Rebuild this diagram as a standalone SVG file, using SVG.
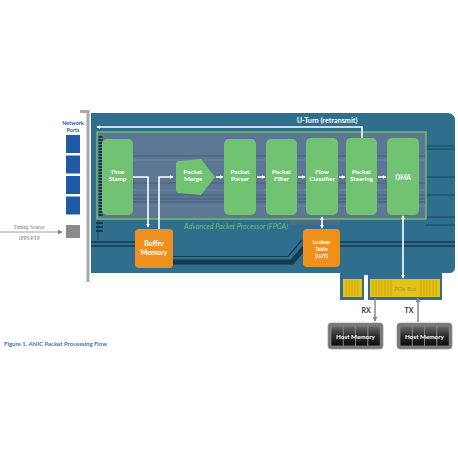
<svg xmlns="http://www.w3.org/2000/svg" width="458" height="458" viewBox="0 0 458 458">
<style>
.lbl{font-family:Lato,"Open Sans","Liberation Sans",sans-serif;fill:#fff;font-weight:700;text-anchor:middle}
.g{fill:#72c274}
.o{fill:#f0901c}
.wl{stroke:#fff;stroke-width:1.6;fill:none}
.tr{stroke:#163850;fill:none}
.fl{stroke:#465f7b;stroke-width:1;fill:none}
.gl{stroke:#7a90a8;stroke-width:0.6;fill:none}
.rt{stroke:#1b4460;fill:none}
.cell{fill:url(#cg);stroke:#8a8a8a;stroke-width:0.8}
.st{stroke:#c2a000;stroke-width:0.8}
</style>
<defs>
<marker id="aw" viewBox="0 0 6 6" refX="5" refY="3" markerWidth="4" markerHeight="4" orient="auto-start-reverse" markerUnits="userSpaceOnUse"><path d="M0,0 L6,3 L0,6 Z" fill="#fff"/></marker>
<marker id="ag" viewBox="0 0 6 6" refX="5" refY="3" markerWidth="5" markerHeight="5" orient="auto-start-reverse" markerUnits="userSpaceOnUse"><path d="M0,0 L6,3 L0,6 Z" fill="#888"/></marker>
<linearGradient id="cg" x1="0" y1="0" x2="0" y2="1"><stop offset="0" stop-color="#6a6a6a"/><stop offset="0.5" stop-color="#2a2a2a"/><stop offset="1" stop-color="#0a0a0a"/></linearGradient>
</defs>
<rect width="458" height="458" fill="#fff"/>

<!-- bracket -->
<path d="M80,111.5 H88 V282" stroke="#a8a8a8" stroke-width="3" fill="none"/>

<!-- card -->
<g id="card">
<path d="M91,113 H447 Q455,113 455,121 V267 Q455,273 449,273 H442 V300 H368 V275 H364 V300 H340 V273 H91 Z" fill="#2f6e8d"/>
<!-- traces -->
<path class="tr" stroke-width="1.5" d="M91,242 H135 M91,246 H135"/>
<path class="tr" stroke-width="5" d="M173,262 H292 L304,248"/>
<path class="tr" stroke-width="1.2" d="M173,256.5 H288 L302,240"/>
<path class="rt" stroke-width="1" d="M426,146 H455 M426,149 H455 M426,177 H455 M426,195 H455 M426,217 H455 M426,225 H455"/>
<path class="tr" stroke-width="1.5" d="M340,242 H455 M340,246 H455"/>
<path d="M98,219 V240" stroke="#163850" stroke-width="0.8"/>
<path d="M96,223 H103 M96,227 H103 M96,231 H103" stroke="#163850" stroke-width="1.8"/>
</g>

<!-- FPGA -->
<g id="fpga">
<rect x="290" y="219" width="50" height="6" fill="#4f6a85"/>
<rect x="97" y="132" width="329" height="87" fill="#5c7793" stroke="#6dbf6a" stroke-width="1.5"/>
<path class="fl" d="M103,156 H425 M103,195 H425 M103,199 H425 M103,202 H425 M103,183 H425"/>
<path class="gl" d="M103,160 H425 M103,190 H425 M103,206 H425"/>
<path d="M100.5,136 V216" stroke="#1d3346" stroke-width="4" stroke-dasharray="2,1"/>
<text x="236" y="229" font-family="Lato,'Open Sans','Liberation Sans',sans-serif" font-size="7.2" font-style="italic" fill="#6dbf6a" text-anchor="middle">Advanced Packet Processor (FPGA)</text>
</g>

<!-- connectors -->
<g id="connectors">
<path class="wl" d="M362,138 V127 H97" marker-end="url(#aw)"/>
<path class="wl" d="M133,177 H148 V227" marker-end="url(#aw)"/>
<path class="wl" d="M159,229 V177 H173" marker-end="url(#aw)"/>
<path class="wl" d="M216,177 H223" marker-end="url(#aw)"/>
<path class="wl" d="M257,177 H265" marker-end="url(#aw)"/>
<path class="wl" d="M298,177 H305" marker-end="url(#aw)"/>
<path class="wl" d="M339,177 H345" marker-end="url(#aw)"/>
<path class="wl" d="M378,177 H386" marker-end="url(#aw)"/>
<path class="wl" d="M322,217 V228" marker-start="url(#aw)" marker-end="url(#aw)"/>
<path class="wl" d="M403,216 V278" marker-start="url(#aw)" marker-end="url(#aw)"/>
<path d="M375,298 V321" stroke="#888" stroke-width="1.5" marker-end="url(#ag)"/>
<path d="M418,322 V298" stroke="#888" stroke-width="1.5" marker-end="url(#ag)"/>
</g>
<text class="lbl" x="327" y="123" font-size="7.2">U-Turn (retransmit)</text>

<!-- nodes -->
<g id="timestamp"><rect class="g" x="102" y="139" width="31" height="76" rx="5"/><text class="lbl" x="117.5" y="174" font-size="6.3">Time</text><text class="lbl" x="117.5" y="181" font-size="6.3">Stamp</text></g>
<g id="merge"><path class="g" d="M176,164 Q176,161 179,161 L201,159 L215,177 L201,195 L179,193 Q176,193 176,190 Z"/><text class="lbl" x="193" y="174" font-size="6.3">Packet</text><text class="lbl" x="193" y="181" font-size="6.3">Merge</text></g>
<g id="parser"><rect class="g" x="224" y="139" width="32" height="76" rx="5"/><text class="lbl" x="240" y="174" font-size="6.3">Packet</text><text class="lbl" x="240" y="181" font-size="6.3">Parser</text></g>
<g id="filter"><rect class="g" x="266" y="139" width="31" height="76" rx="5"/><text class="lbl" x="281.5" y="174" font-size="6.3">Packet</text><text class="lbl" x="281.5" y="181" font-size="6.3">Filter</text></g>
<g id="classifier"><rect class="g" x="306" y="138" width="32" height="77" rx="5"/><text class="lbl" x="322" y="174" font-size="6.3">Flow</text><text class="lbl" x="322" y="181" font-size="6.3">Classifier</text></g>
<g id="steering"><rect class="g" x="346" y="138" width="31" height="77" rx="5"/><text class="lbl" x="361.5" y="174" font-size="6.3">Packet</text><text class="lbl" x="361.5" y="181" font-size="6.3">Steering</text></g>
<g id="dma"><rect class="g" x="387" y="138" width="32" height="77" rx="5"/><text class="lbl" x="403" y="180" font-size="6.5">DMA</text></g>
<g id="buffer"><rect class="o" x="135" y="229" width="38" height="39" rx="4"/><text class="lbl" x="154" y="246" font-size="7">Buffer</text><text class="lbl" x="154" y="255" font-size="7">Memory</text></g>
<g id="lut"><rect class="o" x="303" y="229" width="37" height="38" rx="4"/><text class="lbl" x="321.5" y="244" font-size="5.3">Lookup</text><text class="lbl" x="321.5" y="251" font-size="5.3">Table</text><text class="lbl" x="321.5" y="258" font-size="5.3">(LUT)</text></g>

<!-- network ports -->
<g id="ports">
<text x="73" y="125" font-family="Lato,'Open Sans','Liberation Sans',sans-serif" font-size="5.5" font-weight="700" fill="#1f5aa6" text-anchor="middle">Network</text>
<text x="73" y="132" font-family="Lato,'Open Sans','Liberation Sans',sans-serif" font-size="5.5" font-weight="700" fill="#1f5aa6" text-anchor="middle">Ports</text>
<rect x="66" y="135" width="14" height="18" fill="#1f5aa6"/>
<rect x="66" y="155.5" width="14" height="18" fill="#1f5aa6"/>
<rect x="66" y="176" width="14" height="18" fill="#1f5aa6"/>
<rect x="66" y="196.5" width="14" height="18" fill="#1f5aa6"/>
</g>

<!-- timing source -->
<g id="timing">
<rect x="66" y="225" width="14" height="13" fill="#8a8a8a"/>
<path d="M0,232 H62" stroke="#888" stroke-width="0.8" marker-end="url(#ag)"/>
<text x="29" y="229" font-family="'Liberation Serif',serif" font-size="5.2" fill="#777" text-anchor="middle">Timing Source</text>
<text x="29" y="239.5" font-family="'Liberation Serif',serif" font-size="5.2" fill="#777" text-anchor="middle">1PPS/PTP</text>
</g>

<!-- PCIe -->
<g id="pcie">
<rect x="343" y="279" width="19" height="18" fill="#e5c21a"/>
<path class="st" d="M346,280 V296 M349,280 V296 M352,280 V296 M355,280 V296 M358,280 V296"/>
<rect x="370" y="279" width="70" height="18" fill="#e5c21a"/>
<path class="st" d="M373,280 V296 M376,280 V296 M379,280 V296 M382,280 V296 M385,280 V296 M388,280 V296 M391,280 V296 M421,280 V296 M424,280 V296 M427,280 V296 M430,280 V296 M433,280 V296 M436,280 V296"/>
<text x="405" y="290.5" font-family="Lato,'Open Sans','Liberation Sans',sans-serif" font-size="5.5" fill="#a39a2e" text-anchor="middle">PCIe Bus</text>
</g>
<text x="366" y="313" font-family="Lato,'Open Sans','Liberation Sans',sans-serif" font-size="7" font-weight="700" fill="#333" text-anchor="middle">RX</text>
<text x="409" y="313" font-family="Lato,'Open Sans','Liberation Sans',sans-serif" font-size="7" font-weight="700" fill="#333" text-anchor="middle">TX</text>

<!-- host memory -->
<g id="host-rx">
<rect x="328" y="323" width="55" height="26" rx="3" fill="#757575" stroke="#9a9a9a" stroke-width="0.8"/>
<rect class="cell" x="331" y="326" width="12.3" height="20"/><rect class="cell" x="343.3" y="326" width="12.3" height="20"/><rect class="cell" x="355.6" y="326" width="12.3" height="20"/><rect class="cell" x="367.9" y="326" width="12.3" height="20"/>
<text class="lbl" x="355.5" y="338.5" font-size="6.3">Host Memory</text>
</g>
<g id="host-tx">
<rect x="397" y="323" width="55" height="26" rx="3" fill="#757575" stroke="#9a9a9a" stroke-width="0.8"/>
<rect class="cell" x="400" y="326" width="12.3" height="20"/><rect class="cell" x="412.3" y="326" width="12.3" height="20"/><rect class="cell" x="424.6" y="326" width="12.3" height="20"/><rect class="cell" x="436.9" y="326" width="12.3" height="20"/>
<text class="lbl" x="424.5" y="338.5" font-size="6.3">Host Memory</text>
</g>

<text x="4" y="346" font-family="Lato,'Open Sans','Liberation Sans',sans-serif" font-size="6" font-weight="700" fill="#3a75b8">Figure 1. ANIC Packet Processing Flow</text>
</svg>
